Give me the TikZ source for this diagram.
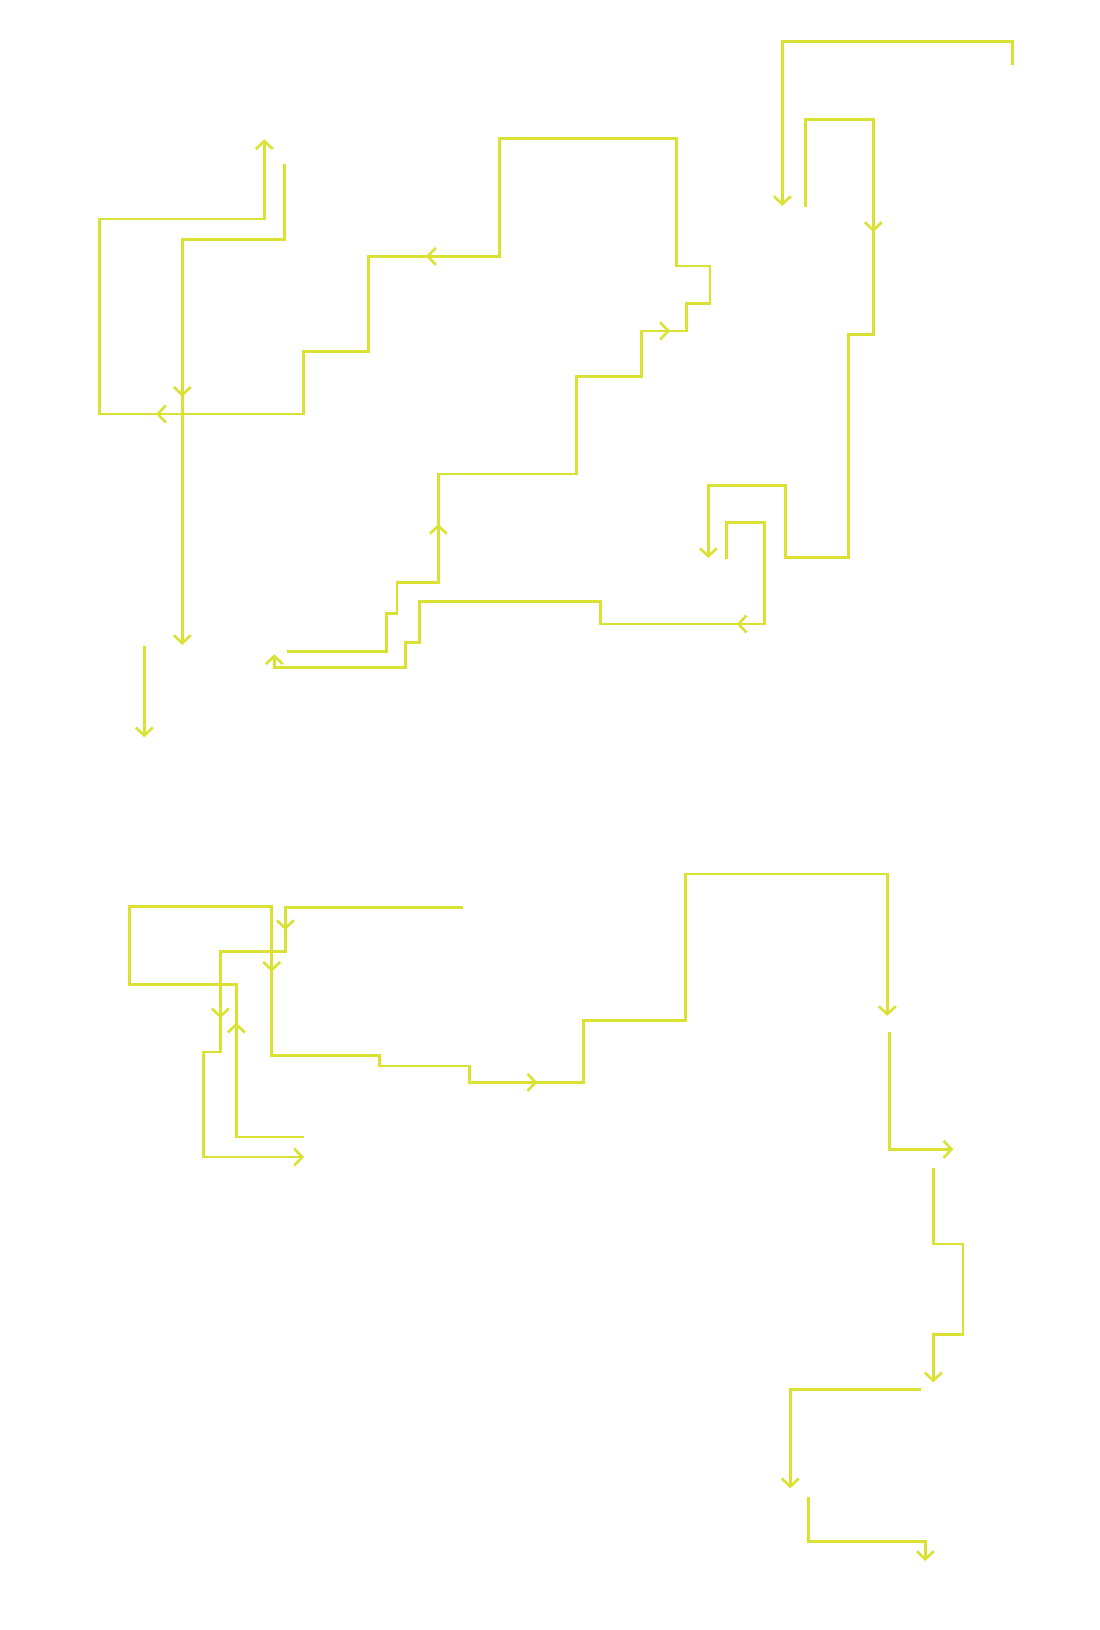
\documentclass[tikz,border=0pt]{standalone}
\usetikzlibrary{arrows.meta}
\definecolor{lime}{RGB}{218,225,50}
\tikzset{
  wire/.style={draw=lime, line width=2.6pt, line join=miter},
  tip/.style={-{Straight Barb[length=8pt,width=17pt]}}
}
\begin{document}
\begin{tikzpicture}[x=1pt,y=-1pt]
\useasboundingbox (0,0) rectangle (1100,1630);
% Path A
\draw[wire,tip] (287,651.3) -- (386.3,651.3) -- (386.3,613.3) -- (397,613.3) -- (397,582.7) -- (438.3,582.7) -- (438.3,474) -- (576.7,474) -- (576.7,376.3) -- (641.7,376.3) -- (641.7,331) -- (686.7,331) -- (686.7,303.3) -- (710,303.3) -- (710,266) -- (676.7,266) -- (676.7,138.3) -- (499.7,138.3) -- (499.7,256.3) -- (368.7,256.3) -- (368.7,351.3) -- (303.3,351.3) -- (303.3,414) -- (99.7,414) -- (99.7,219) -- (264.3,219) -- (264.3,139.3);
\draw[wire,tip] (438.3,534) -- (438.3,524);
\draw[wire,tip] (660,331) -- (670,331);
\draw[wire,tip] (436,256.3) -- (426,256.3);
\draw[wire,tip] (166,414) -- (156,414);
% Path B
\draw[wire,tip] (284.3,164) -- (284.3,239.3) -- (182.3,239.3) -- (182.3,645);
\draw[wire,tip] (182.3,386.7) -- (182.3,396.7);
% Path C
\draw[wire,tip] (144.3,646) -- (144.3,737.3);
% Path D
\draw[wire,tip] (1012.3,65) -- (1012.3,41.7) -- (782.3,41.7) -- (782.3,206);
% Path E
\draw[wire,tip] (805.3,207.3) -- (805.3,119.3) -- (873.3,119.3) -- (873.3,334.3) -- (848.7,334.3) -- (848.7,557.3) -- (785.3,557.3) -- (785.3,485.7) -- (708.3,485.7) -- (708.3,558);
\draw[wire,tip] (873.3,222) -- (873.3,232);
% Path F
\draw[wire,tip] (726.3,558.7) -- (726.3,522.3) -- (764.7,522.3) -- (764.7,624) -- (600.7,624) -- (600.7,601.7) -- (419.3,601.7) -- (419.3,642.3) -- (405.7,642.3) -- (405.7,667.3) -- (274.3,667.3) -- (274.3,654.3);
\draw[wire,tip] (746.7,624) -- (736.7,624);
% Path G
\draw[wire,tip] (462.7,907.3) -- (285.3,907.3) -- (285.3,951.3) -- (220.3,951.3) -- (220.3,1052) -- (203.7,1052) -- (203.7,1157) -- (304,1157);
\draw[wire,tip] (285.3,920) -- (285.3,930);
\draw[wire,tip] (220.3,1008.3) -- (220.3,1018.3);
% Path H
\draw[wire,tip] (304.3,1137) -- (236.3,1137) -- (236.3,984.3) -- (129.3,984.3) -- (129.3,906.7) -- (271.7,906.7) -- (271.7,1055.7) -- (379.3,1055.7) -- (379.3,1066) -- (469.3,1066) -- (469.3,1082.3) -- (583.3,1082.3) -- (583.3,1020.3) -- (685.7,1020.3) -- (685.7,874) -- (887.3,874) -- (887.3,1016);
\draw[wire,tip] (236.3,1032.7) -- (236.3,1022.7);
\draw[wire,tip] (271.7,961.7) -- (271.7,971.7);
\draw[wire,tip] (527.3,1082.3) -- (537.3,1082.3);
% Path I
\draw[wire,tip] (889.3,1031.7) -- (889.3,1149.3) -- (953.3,1149.3);
% Path J
\draw[wire,tip] (933.3,1168.3) -- (933.3,1244) -- (963,1244) -- (963,1334.3) -- (933.3,1334.3) -- (933.3,1382.3);
% Path K
\draw[wire,tip] (920.7,1389.3) -- (790.3,1389.3) -- (790.3,1488.3);
% Path L
\draw[wire,tip] (808.3,1497) -- (808.3,1541.3) -- (925.3,1541.3) -- (925.3,1561);
\end{tikzpicture}
\end{document}
